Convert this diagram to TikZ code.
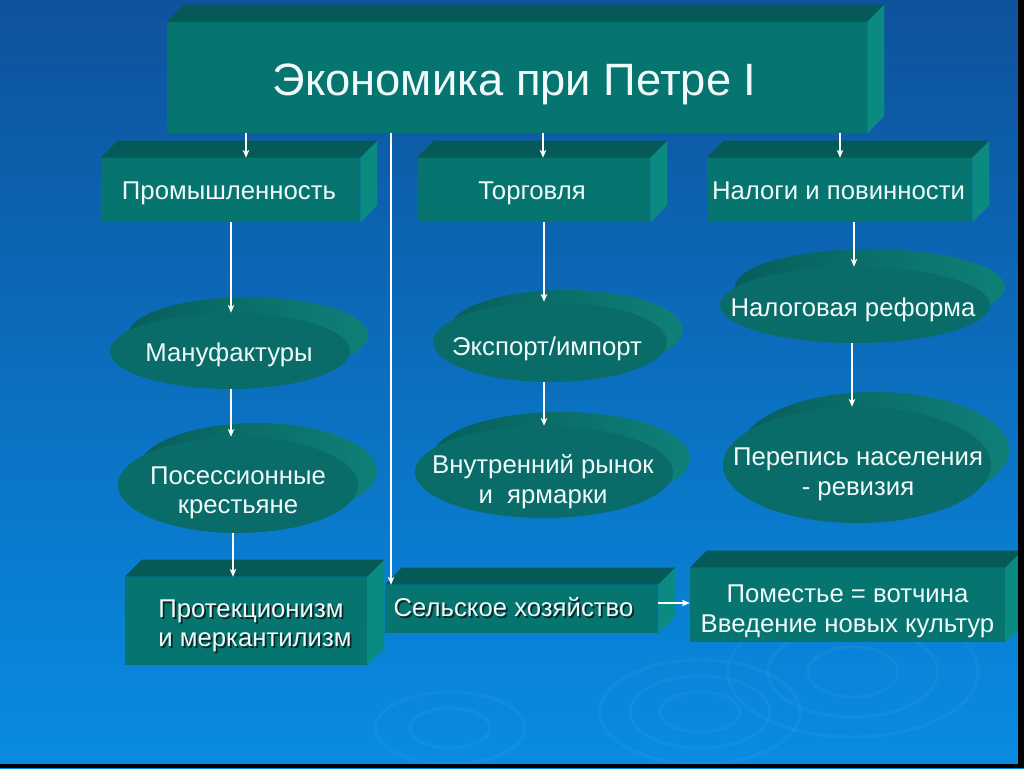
\documentclass[tikz,border=0pt]{standalone}
\usepackage{fontspec}
\setmainfont{Liberation Sans}
\usetikzlibrary{arrows.meta,calc,shapes.geometric}
\definecolor{bgtop}{RGB}{14,82,156}
\definecolor{bgbot}{RGB}{8,140,226}
\definecolor{frontc}{RGB}{6,116,111}
\definecolor{topc}{RGB}{5,90,88}
\definecolor{sidec}{RGB}{10,138,128}
\definecolor{diskf}{RGB}{10,108,104}
\definecolor{diskd}{RGB}{7,94,92}
\definecolor{diskl}{RGB}{14,128,120}
\definecolor{txtc}{RGB}{240,250,250}
\definecolor{shadc}{RGB}{8,40,40}
\newcommand\txt[4][c]{\makebox[0pt]{\hspace*{\dimexpr (#2pt)*3/2\relax}\raisebox{\dimexpr 0pt-(#3pt)*3/4-7.95pt\relax}[0pt][0pt]{\begin{tabular}{@{}#1@{}}#4\end{tabular}}}}
\newcommand\shd[1]{\rlap{\hspace{1.3pt}\raisebox{-1.3pt}{\color{shadc}#1}}#1}
\newcommand\boxthree[6]{%
  \node[boxfront, minimum width=#4*0.75pt, minimum height=#5*0.75pt] (#1) at (#2,#3) {#6};
  \fill[topc] (#1.north west) -- ++(17,-17) -- ($(#1.north east)+(17,-17)$) -- (#1.north east) -- cycle;
  \fill[sidec] (#1.north east) -- ++(17,-17) -- ($(#1.south east)+(17,-17)$) -- (#1.south east) -- cycle;
}
\newcommand\diskthree[8]{%
  \shade[left color=diskd, right color=diskl] (#2+#6,#3+#7) ellipse [x radius=#4*0.75pt, y radius=#5*0.75pt];
  \node[diskfront, minimum width=#4*1.5pt, minimum height=#5*1.5pt] (#1) at (#2,#3) {#8};
}
\tikzset{
  boxfront/.style={rectangle, fill=frontc, inner sep=0pt, text=txtc, font=\fontsize{19.3}{22}\selectfont},
  diskfront/.style={ellipse, fill=diskf, inner sep=0pt, text=txtc, font=\fontsize{19.3}{22}\selectfont},
  arr/.style={draw=white, line width=0.8pt, -{Stealth[length=6pt,width=5pt]}},
  ripple/.style={draw=white, opacity=0.04, line width=2.5pt}
}
\begin{document}
\begin{tikzpicture}[x=0.75pt,y=-0.75pt]
\useasboundingbox (0,0) rectangle (1024,768);
\shade[top color=bgtop, bottom color=bgbot] (0,0) rectangle (1024,768);
% ripples
\draw[ripple] (700,712) ellipse [x radius=40*0.75pt, y radius=20*0.75pt];
\draw[ripple] (700,712) ellipse [x radius=70*0.75pt, y radius=36*0.75pt];
\draw[ripple] (700,712) ellipse [x radius=100*0.75pt, y radius=52*0.75pt];
\draw[ripple] (853,672) ellipse [x radius=45*0.75pt, y radius=25*0.75pt];
\draw[ripple] (853,672) ellipse [x radius=85*0.75pt, y radius=45*0.75pt];
\draw[ripple] (853,672) ellipse [x radius=125*0.75pt, y radius=65*0.75pt];
\draw[ripple] (450,728) ellipse [x radius=40*0.75pt, y radius=20*0.75pt];
\draw[ripple] (450,728) ellipse [x radius=75*0.75pt, y radius=36*0.75pt];

% boxes
\boxthree{title}{517}{77.5}{700}{111}{\fontsize{34}{40}\selectfont\txt{-2.5}{5}{Экономика при Петре I}}
\boxthree{prom}{230.5}{190}{259}{64}{\txt{-1.5}{0}{Промышленность}}
\boxthree{torg}{533.5}{190}{233}{64}{\txt{-1.5}{0}{Торговля}}
\boxthree{nalog}{839.5}{190}{265}{64}{\txt{-1}{0}{Налоги и повинности}}
\boxthree{prot}{246}{621}{242}{88}{\txt[l]{9}{1.5}{\shd{Протекционизм}\\ \shd{и меркантилизм}}}
\boxthree{sel}{521.5}{609}{273}{48}{\txt{-8}{-2}{\shd{Сельское хозяйство}}}
\boxthree{pom}{847.5}{605}{315}{74}{\txt{0}{3}{Поместье = вотчина\\Введение новых культур}}

% disks
\diskthree{manu}{230}{351}{120}{38}{18}{-16}{\txt{-1}{1}{Мануфактуры}}
\diskthree{poss}{238}{485}{120}{48}{19}{-14}{\txt{0}{4.5}{Посессионные\\крестьяне}}
\diskthree{exp}{550}{342}{117}{40}{16}{-12}{\txt{-3}{4}{Экспорт/импорт}}
\diskthree{vnut}{544}{472}{129}{46}{17}{-14}{\txt{-1}{7}{Внутренний рынок\\и\ \ ярмарки}}
\diskthree{nref}{855}{305}{135}{38}{15}{-18}{\txt{-2}{2}{Налоговая реформа}}
\diskthree{perep}{857}{465}{134}{58}{18}{-15}{\txt{1}{6}{Перепись населения\\- ревизия}}

% connector x positions
\coordinate (xa) at (246,0);
\coordinate (xt) at (543,0);
\coordinate (xn) at (840,0);
\coordinate (xv) at (391,0);
\coordinate (xb) at (231,0);
\coordinate (xc) at (233,0);
\coordinate (xe) at (544,0);
\coordinate (xr) at (854,0);
\coordinate (xp) at (852,0);
\coordinate (ys) at (0,603);

\draw[arr] (title.south -| xa) -- (prom.north -| xa);
\draw[arr] (title.south -| xt) -- (torg.north -| xt);
\draw[arr] (title.south -| xn) -- (nalog.north -| xn);
\draw[arr] (title.south -| xv) -- (sel.north -| xv);
\draw[arr] (prom.south -| xb) -- (manu.north -| xb);
\draw[arr] (manu.south -| xb) -- (poss.north -| xb);
\draw[arr] (poss.south -| xc) -- (prot.north -| xc);
\draw[arr] (torg.south -| xe) -- (exp.north -| xe);
\draw[arr] (exp.south -| xe) -- (vnut.north -| xe);
\draw[arr] (nalog.south -| xr) -- (nref.north -| xr);
\draw[arr] (nref.south -| xp) -- (perep.north -| xp);
\draw[arr] (sel.east |- ys) -- (pom.west |- ys);

% frame edges
\fill[black] (1018,0) rectangle (1024,768);
\fill[black] (0,764) rectangle (1024,768);
\end{tikzpicture}
\end{document}
